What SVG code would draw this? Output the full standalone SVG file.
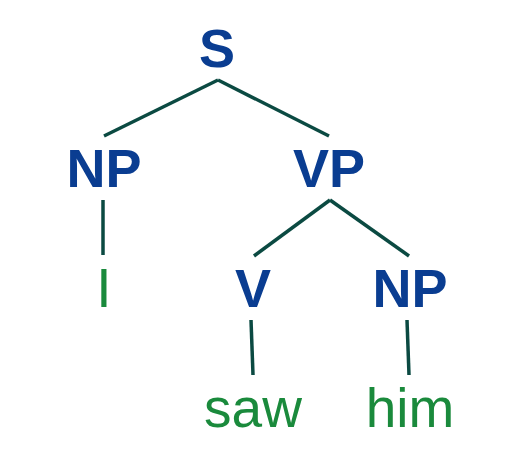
<svg xmlns="http://www.w3.org/2000/svg" width="520" height="454" viewBox="0 0 520 454">
<style>
.cat{font-family:"Liberation Sans",Arial,sans-serif;font-weight:bold;font-size:54px;fill:#0a3d91;text-anchor:middle}
.word{font-family:"Liberation Sans",Arial,sans-serif;font-size:55px;fill:#1a8a3c;text-anchor:middle}
.edge{stroke:#0b4a42;stroke-width:3.5;fill:none;stroke-linecap:butt}
</style>
<rect width="520" height="454" fill="#ffffff"/>
<g id="connectors">
<line class="edge" x1="218" y1="80" x2="104" y2="136"/>
<line class="edge" x1="218" y1="80" x2="329" y2="136"/>
<line class="edge" x1="103" y1="200" x2="103" y2="255"/>
<line class="edge" x1="330" y1="200" x2="254" y2="256"/>
<line class="edge" x1="330" y1="200" x2="409" y2="256"/>
<line class="edge" x1="251" y1="320" x2="253" y2="375"/>
<line class="edge" x1="407" y1="320" x2="409" y2="375"/>
</g>
<g id="node-S"><text class="cat" x="217" y="67">S</text></g>
<g id="node-NP1"><text class="cat" x="104" y="187">NP</text></g>
<g id="node-VP"><text class="cat" x="329" y="187">VP</text></g>
<g id="node-I"><text class="word" x="104" y="307">I</text></g>
<g id="node-V"><text class="cat" x="253" y="307">V</text></g>
<g id="node-NP2"><text class="cat" x="410" y="307">NP</text></g>
<g id="node-saw"><text class="word" x="253" y="427">saw</text></g>
<g id="node-him"><text class="word" x="410" y="427">him</text></g>
</svg>
